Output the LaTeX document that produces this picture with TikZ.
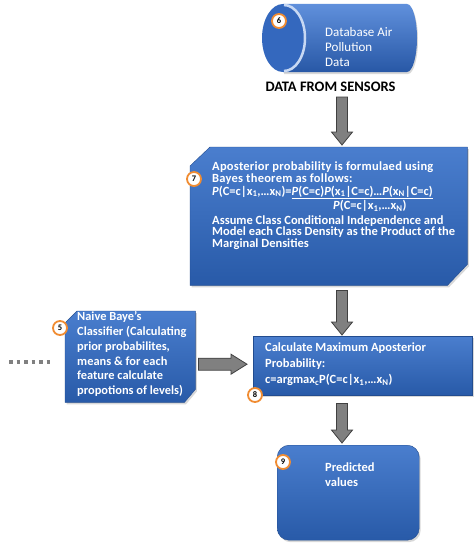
\documentclass[tikz,border=0pt]{standalone}
\usepackage{fontspec}
\setmainfont{Carlito}
\usetikzlibrary{calc,shadows}
\definecolor{boxtop}{RGB}{74,126,206}
\definecolor{boxbot}{RGB}{40,90,168}
\definecolor{cyltop}{RGB}{96,144,220}
\definecolor{cylbot}{RGB}{40,88,166}
\definecolor{cylface}{RGB}{52,104,190}
\definecolor{ring}{RGB}{240,140,50}
\definecolor{arrowgray}{RGB}{128,128,128}
\tikzset{
  boxshade/.style={top color=boxtop,bottom color=boxbot,draw=boxbot!85!black,line width=0.4pt,
    drop shadow={opacity=0.3,shadow xshift=1.5pt,shadow yshift=-2pt}},
  boxarea/.style={inner sep=0pt,anchor=north west},
  boxtext/.style={text=white,font=\fontsize{12.5}{15}\selectfont\bfseries,align=left,anchor=north west,inner sep=0pt},
  numcirc/.style={circle,draw=ring,line width=1.8pt,fill=white,minimum size=14pt,inner sep=0pt,
    font=\fontsize{8.5}{9}\selectfont\bfseries},
  fatarrow/.style={fill=arrowgray,draw=black!75,line width=0.8pt,line join=miter},
  dotline/.style={draw=arrowgray,line width=3.5pt,dash pattern=on 3.5pt off 4pt},
}
\newcommand\fatdown[2]{\path[fatarrow] let \p1=(#1), \p2=(#2) in
  (\x1-5.5pt,\y1) -- (\x1+5.5pt,\y1) -- (\x1+5.5pt,\y2+13pt) -- (\x1+10.5pt,\y2+13pt) --
  (\x1,\y2) -- (\x1-10.5pt,\y2+13pt) -- (\x1-5.5pt,\y2+13pt) -- cycle;}
\newcommand\fatright[2]{\path[fatarrow] let \p1=(#1), \p2=(#2) in
  (\x1,\y1+6pt) -- (\x2-16pt,\y1+6pt) -- (\x2-16pt,\y1+10pt) -- (\x2,\y1) --
  (\x2-16pt,\y1-10pt) -- (\x2-16pt,\y1-6pt) -- (\x1,\y1-6pt) -- cycle;}
\newcommand\spaced[1]{{\addfontfeature{LetterSpace=1.9}#1}}
\begin{document}
\begin{tikzpicture}[x=1pt,y=1pt]
\fill[white] (0,0) rectangle (474,-543);
\useasboundingbox (0,0) rectangle (474,-543);
\coordinate (ax) at (342,0);

% database cylinder
\node[boxarea,minimum width=155pt,minimum height=68pt] (db) at (262,-4) {};
\path[top color=cyltop,bottom color=cylbot,drop shadow={opacity=0.3,shadow xshift=1pt,shadow yshift=-2pt}]
  (283,-4) -- (407,-4) arc[start angle=90,end angle=-90,x radius=10,y radius=34] -- (283,-72) -- cycle;
\fill[cylface] (283,-38) ellipse[x radius=21,y radius=34];
\draw[white!65!cyltop,line width=2.5pt] (284,-5) arc[start angle=90,end angle=-90,x radius=21,y radius=33];
\node[boxtext,font=\fontsize{13}{14.7}\selectfont] (dbtext) at (325,-27.5) {Database Air\\Pollution\\Data};
\node[numcirc] (c6) at (279,-21) {6};
\node[font=\fontsize{14.5}{16}\selectfont\bfseries,inner sep=1pt] (sens) at (330.5,-87) {DATA FROM SENSORS};

% box 7
\node[boxarea,minimum width=277pt,minimum height=138pt] (b7) at (190,-147) {};
\path[boxshade] ($(b7.north west)+(0,-19)$) -- ($(b7.north west)+(20,0)$) -- (b7.north east) --
  ($(b7.south east)+(0,21)$) -- ($(b7.south east)+(-20,0)$) -- (b7.south west) -- cycle;
\node[boxtext,font=\fontsize{12.5}{10.3}\selectfont\bfseries] (b7text) at (212,-162) {\spaced{Aposterior probability is formulaed using}\\
\spaced{Bayes theorem as follows:}\\
\textit{P}(C=c|x\textsubscript{1},…x\textsubscript{N})=\underline{\textit{P}(C=c)\textit{P}(x\textsubscript{1}|C=c)…\textit{P}(x\textsubscript{N}|C=c)}\\
\hspace*{121pt}\textit{P}(C=c|x\textsubscript{1},…x\textsubscript{N})\\[3pt]
Assume Class Conditional Independence and\\
Model each Class Density as the Product of the\\
Marginal Densities};
\node[numcirc] (c7) at (194,-179) {7};

% box 5
\node[boxarea,minimum width=130pt,minimum height=91pt] (b5) at (65,-311) {};
\path[boxshade] ($(b5.north west)+(0,-12)$) -- ($(b5.north west)+(12,0)$) -- (b5.north east) --
  ($(b5.south east)+(0,13)$) -- ($(b5.south east)+(-11,0)$) -- (b5.south west) -- cycle;
\node[boxtext,font=\fontsize{12.4}{14.8}\selectfont\bfseries] (b5text) at (77,-311.5) {Naive Baye's\\Classifier (Calculating\\prior probabilites,\\means \& for each\\feature calculate\\propotions of levels)};
\node[numcirc] (c5) at (60,-328) {5};

% box 8
\node[boxarea,boxshade,minimum width=219pt,minimum height=59pt] (b8) at (253,-336) {};
\node[boxtext,font=\fontsize{12.5}{16}\selectfont\bfseries] (b8text) at (265,-342.5) {Calculate Maximum Aposterior\\Probability:\\c=argmax\textsubscript{c}P(C=c|x\textsubscript{1},…x\textsubscript{N})};
\node[numcirc] (c8) at (255,-395) {8};

% box 9
\node[boxarea,boxshade,rounded corners=12pt,minimum width=142pt,minimum height=95pt] (b9) at (277,-445) {};
\node[boxtext] (b9text) at (325,-462.5) {Predicted\\values};
\node[numcirc] (c9) at (283,-462) {9};

% connectors
\fatdown{$(sens.south -| ax)+(0,-4)$}{$(b7.north -| ax)+(0,2)$}
\fatdown{$(b7.south -| ax)+(0,-5)$}{$(b8.north -| ax)+(0,1)$}
\fatdown{$(b8.south -| ax)+(0,-8)$}{$(b9.north -| ax)+(0,2)$}
\fatright{$(b5.east)+(3,-7.5)$}{$(b8.west)+(-6,0)$}
\coordinate (dl) at (9,-362);
\coordinate (dr) at (53,-362);
\draw[dotline] (dl) -- (dr);
\end{tikzpicture}
\end{document}
